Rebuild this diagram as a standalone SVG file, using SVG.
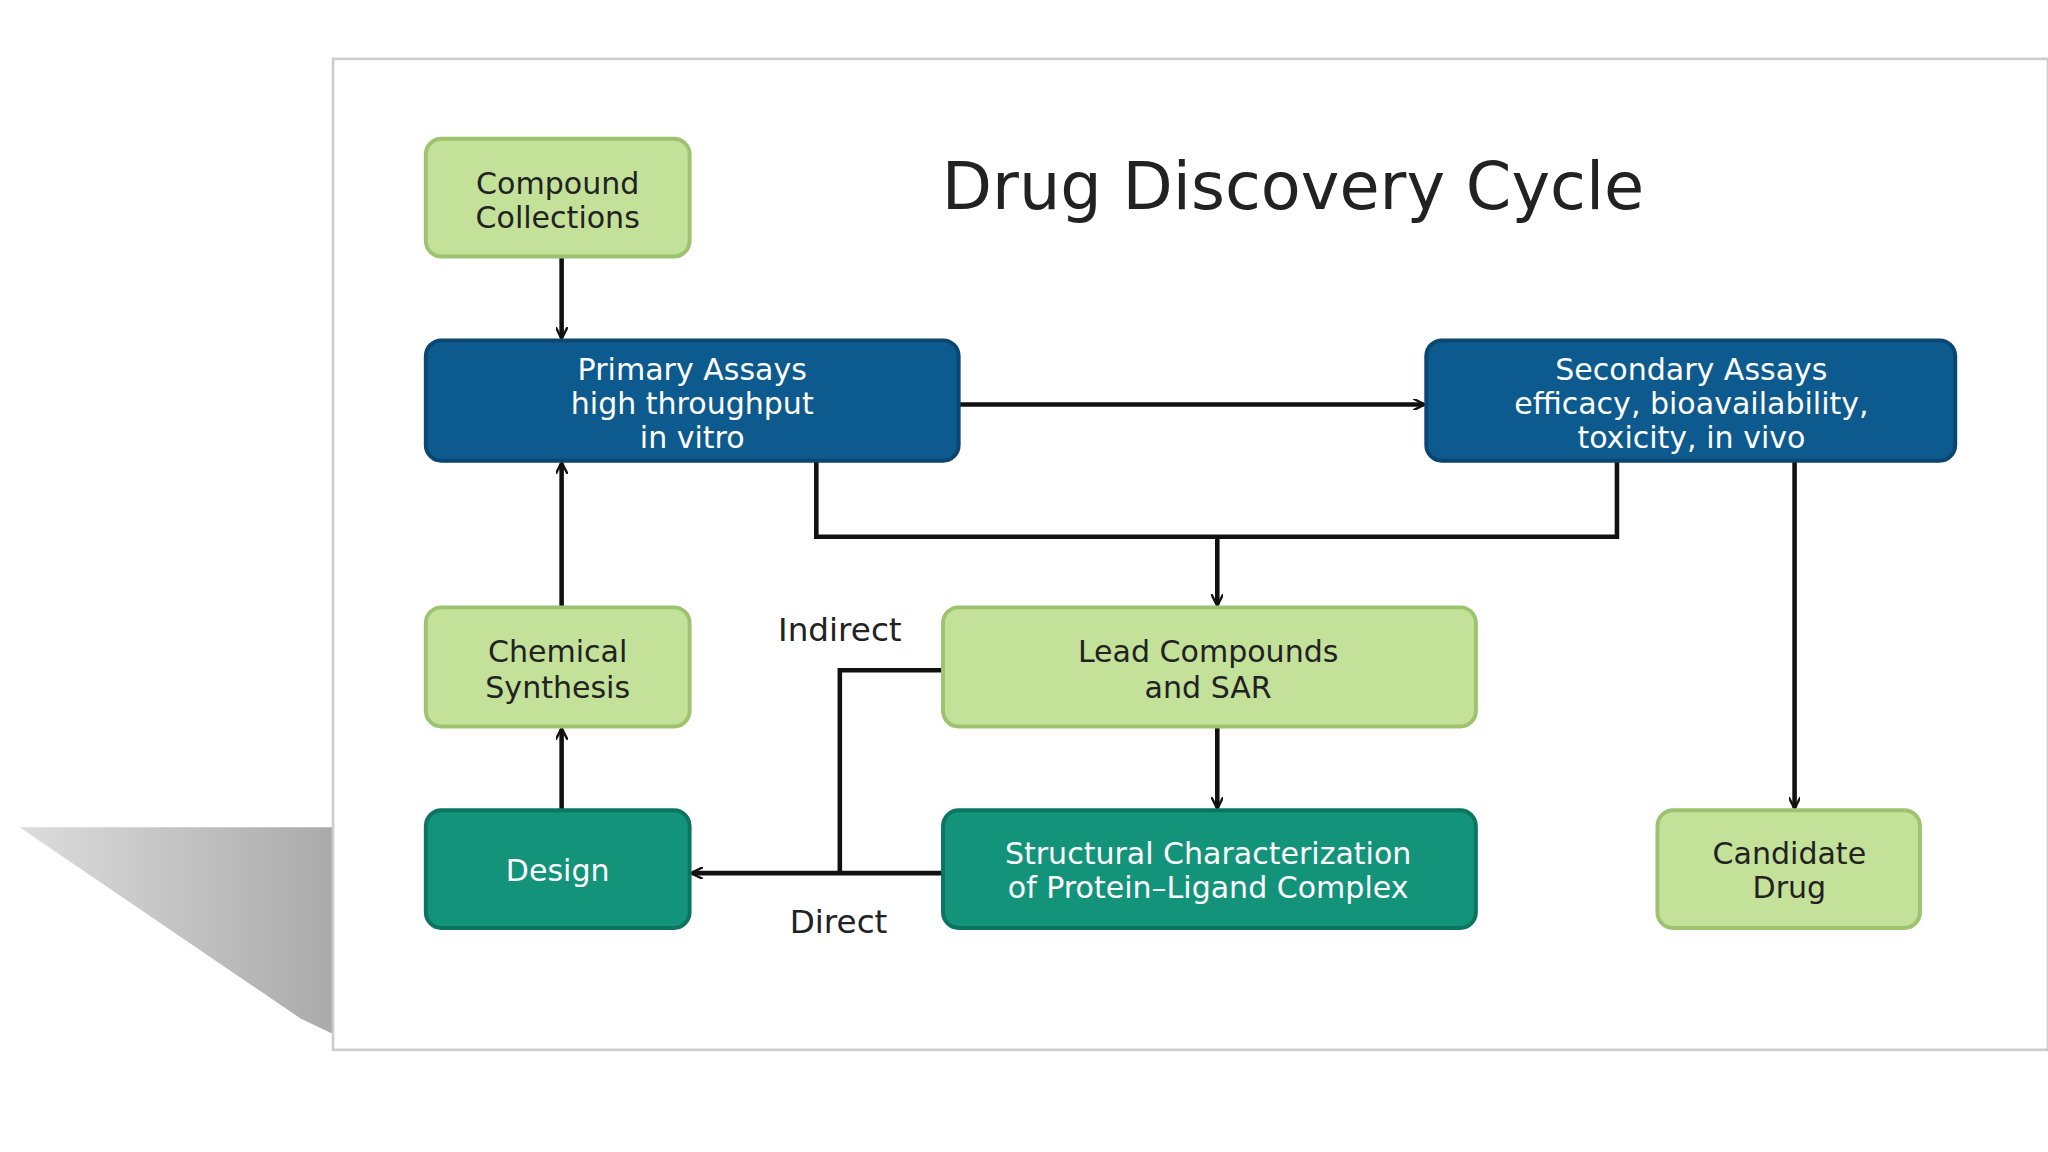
<svg xmlns="http://www.w3.org/2000/svg" width="2048" height="1152" viewBox="0 0 2048 1152">
<defs>
<marker id="ah" viewBox="0 0 10 10" refX="9" refY="5" markerWidth="9" markerHeight="9" markerUnits="userSpaceOnUse" orient="auto"><path d="M0,0 L10,5 L0,10" fill="none" stroke="#111" stroke-width="2"/></marker>
<linearGradient id="sh" x1="0" y1="0" x2="1" y2="0"><stop offset="0" stop-color="#ddd"/><stop offset="1" stop-color="#aaa"/></linearGradient>
<style>
.lg{fill:#c4e19a;stroke:#9ec36f;stroke-width:3}
.db{fill:#0d5a8e;stroke:#0a4670;stroke-width:3}
.tl{fill:#12937a;stroke:#0c7562;stroke-width:3}
text{font-family:"DejaVu Sans","Liberation Sans",sans-serif;font-size:23px;text-anchor:middle}
.w{fill:#fff}
.k{fill:#222}
.c{fill:none;stroke:#111;stroke-width:3.5}
</style>
</defs>
<rect width="2048" height="1152" fill="#fff"/>
<g transform="scale(1.3061,1.309)">
<polygon points="15,632 255,632 255,790 230,778" fill="url(#sh)"/>
<rect x="255" y="45" width="1313" height="757" fill="#fff" stroke="#ccc" stroke-width="2"/>
<text x="990" y="160" style="font-size:50px" class="k">Drug Discovery Cycle</text>
<g id="connectors">
<path class="c" d="M430,197 V258" marker-end="url(#ah)"/>
<path class="c" d="M735,309 H1090" marker-end="url(#ah)"/>
<path class="c" d="M625,353 V410 H1238 V353"/>
<path class="c" d="M932,410 V462" marker-end="url(#ah)"/>
<path class="c" d="M1374,353 V617" marker-end="url(#ah)"/>
<path class="c" d="M932,556 V617" marker-end="url(#ah)"/>
<path class="c" d="M722,667 H530" marker-end="url(#ah)"/>
<path class="c" d="M722,512 H643 V667"/>
<path class="c" d="M430,619 V557" marker-end="url(#ah)"/>
<path class="c" d="M430,464 V354" marker-end="url(#ah)"/>
</g>
<g id="compound"><rect class="lg" x="326" y="106" width="202" height="90" rx="12"/><text class="k" x="427" y="148">Compound</text><text class="k" x="427" y="174">Collections</text></g>
<g id="primary"><rect class="db" x="326" y="260" width="408" height="92" rx="12"/><text class="w" x="530" y="290">Primary Assays</text><text class="w" x="530" y="316">high throughput</text><text class="w" x="530" y="342">in vitro</text></g>
<g id="secondary"><rect class="db" x="1092" y="260" width="405" height="92" rx="12"/><text class="w" x="1295" y="290">Secondary Assays</text><text class="w" x="1295" y="316">efficacy, bioavailability,</text><text class="w" x="1295" y="342">toxicity, in vivo</text></g>
<g id="chemical"><rect class="lg" x="326" y="464" width="202" height="91" rx="12"/><text class="k" x="427" y="506">Chemical</text><text class="k" x="427" y="533">Synthesis</text></g>
<g id="lead"><rect class="lg" x="722" y="464" width="408" height="91" rx="12"/><text class="k" x="925" y="506">Lead Compounds</text><text class="k" x="925" y="533">and SAR</text></g>
<g id="design"><rect class="tl" x="326" y="619" width="202" height="90" rx="12"/><text class="w" x="427" y="673">Design</text></g>
<g id="structural"><rect class="tl" x="722" y="619" width="408" height="90" rx="12"/><text class="w" x="925" y="660">Structural Characterization</text><text class="w" x="925" y="686">of Protein–Ligand Complex</text></g>
<g id="candidate"><rect class="lg" x="1269" y="619" width="201" height="90" rx="12"/><text class="k" x="1370" y="660">Candidate</text><text class="k" x="1370" y="686">Drug</text></g>
<text class="k" x="643" y="490" style="font-size:25px">Indirect</text>
<text class="k" x="642" y="713" style="font-size:25px">Direct</text>
</g>
</svg>
